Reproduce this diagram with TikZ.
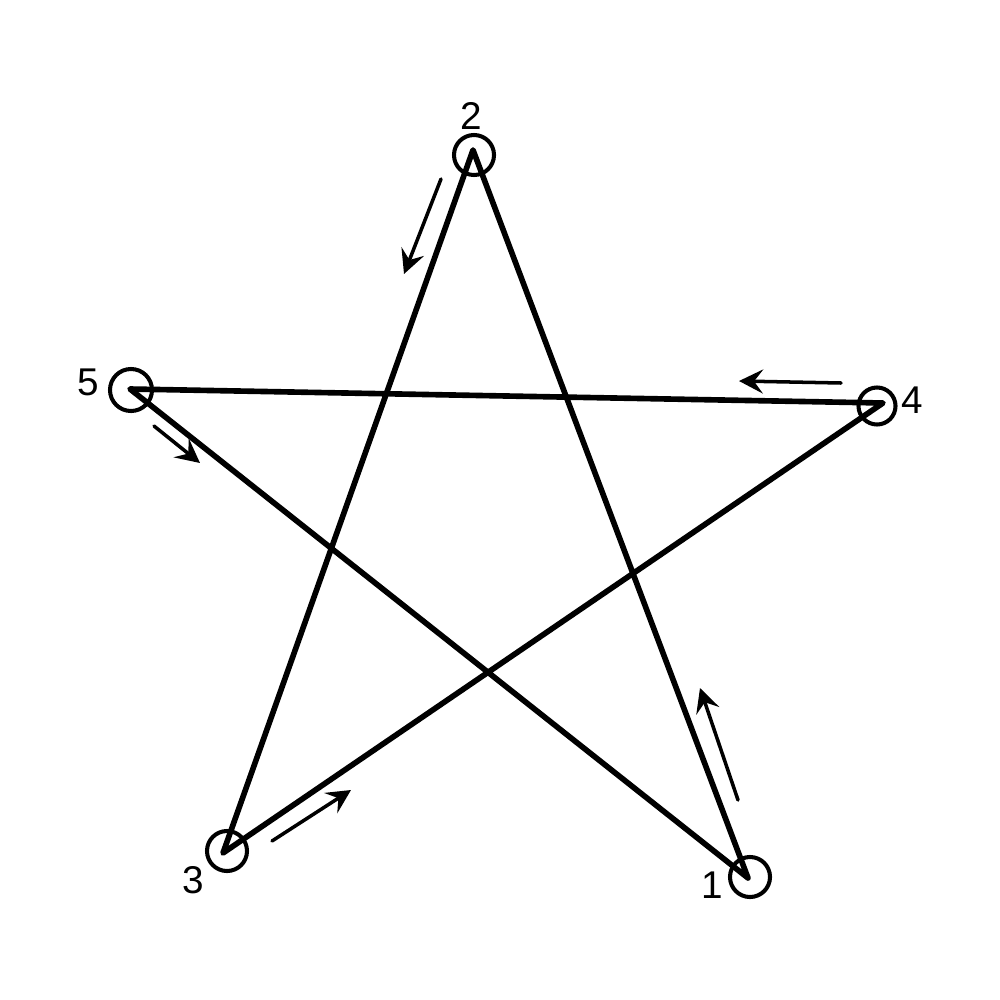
\documentclass[tikz,border=0pt]{standalone}
\usepackage{fontspec}
\setmainfont{Liberation Sans}
\usetikzlibrary{arrows.meta}
\begin{document}
\begin{tikzpicture}[x=0.01cm,y=-0.01cm,
  edge/.style={line width=1.6pt, line cap=round, line join=round},
  ring/.style={circle, draw, line width=1.15pt, minimum size=0.4cm, inner sep=0pt},
  flow/.style={line width=1pt, line cap=round, -{Stealth[length=2.4mm, width=2.4mm, inset=0.9mm]}},
  lbl/.style={font=\fontsize{11}{11}\selectfont}]
\useasboundingbox (0,0) rectangle (1000,1000);
% vertices
\coordinate (v1) at (748,878);
\coordinate (v2) at (473,150);
\coordinate (v3) at (223,853);
\coordinate (v4) at (883,403);
\coordinate (v5) at (130,389);
% rings
\node[ring] (c1) at (750,877) {};
\node[ring] (c2) at (474,155) {};
\node[ring] (c3) at (227,851) {};
\node[ring, minimum size=0.37cm] (c4) at (877,406) {};
\node[ring, minimum size=0.42cm] (c5) at (131,390) {};
% star
\draw[edge] (v1) -- (v2) -- (v3) -- (v4) -- (v5) -- cycle;
% labels
\node[lbl] (l1) at (712,885) {1};
\node[lbl] (l2) at (471,116) {2};
\node[lbl] (l3) at (193,880) {3};
\node[lbl] (l4) at (912,400) {4};
\node[lbl] (l5) at (88,382) {5};
% direction arrows
\coordinate (a1s) at (738,800); \coordinate (a1e) at (700,688);
\coordinate (a2s) at (441,179); \coordinate (a2e) at (404,274);
\coordinate (a3s) at (272,841); \coordinate (a3e) at (351,790);
\coordinate (a4s) at (841,383); \coordinate (a4e) at (739,381);
\coordinate (a5s) at (154,426); \coordinate (a5e) at (200,463);
\draw[flow] (a1s) -- (a1e);
\draw[flow] (a2s) -- (a2e);
\draw[flow] (a3s) -- (a3e);
\draw[flow] (a4s) -- (a4e);
\draw[flow] (a5s) -- (a5e);
\end{tikzpicture}
\end{document}
